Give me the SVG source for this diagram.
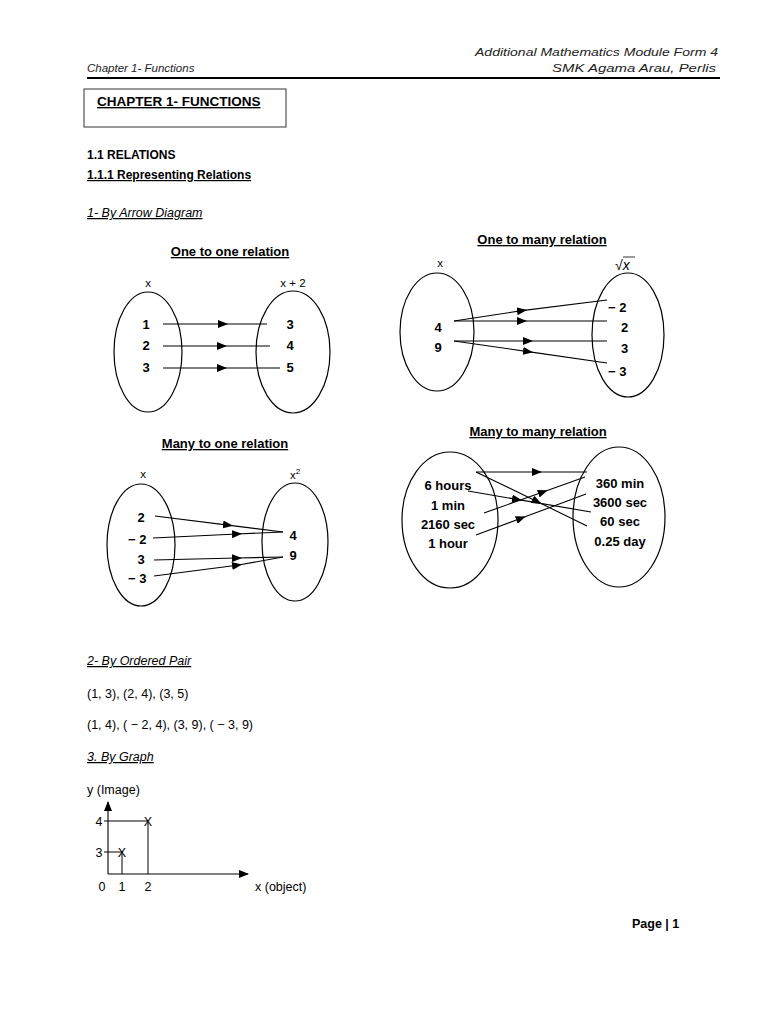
<svg xmlns="http://www.w3.org/2000/svg" width="768" height="1024" viewBox="0 0 768 1024">
<defs>
<marker id="mid" markerUnits="userSpaceOnUse" markerWidth="10" markerHeight="8" refX="5" refY="4" orient="auto"><path d="M0,0 L10,4 L0,8 z" fill="#000"/></marker>
<marker id="end" markerUnits="userSpaceOnUse" markerWidth="10" markerHeight="8" refX="9" refY="4" orient="auto"><path d="M0,0 L10,4 L0,8 z" fill="#000"/></marker>
</defs>
<style>
text{font-family:"Liberation Sans",Arial,sans-serif;fill:#000}
.hd{font-size:11.5px;font-style:italic;fill:#222}
.b{font-weight:bold;font-size:12px}
.t{font-weight:bold;font-size:13px;text-decoration:underline}
.it{font-style:italic;font-size:12.5px;text-decoration:underline}
.n{font-size:12.5px}
.v{font-weight:bold;font-size:13px}
.s{font-size:11.5px}
.e{fill:none;stroke:#000;stroke-width:1.2}
.c path,.c line{fill:none;stroke:#000;stroke-width:1.1}
</style>
<rect width="768" height="1024" fill="#fff"/>
<g id="header">
<text class="hd" x="718" y="56" text-anchor="end" textLength="243" lengthAdjust="spacingAndGlyphs" font-size="13">Additional Mathematics Module Form 4</text>
<text class="hd" x="87" y="72">Chapter 1- Functions</text>
<text class="hd" x="716" y="72" text-anchor="end" textLength="164" lengthAdjust="spacingAndGlyphs" font-size="13">SMK Agama Arau, Perlis</text>
<line x1="87" y1="78" x2="720" y2="78" stroke="#000" stroke-width="2"/>
</g>
<g id="title-box">
<rect x="84" y="89" width="202" height="38" fill="none" stroke="#333" stroke-width="1"/>
<text x="97" y="106" font-weight="bold" font-size="13.5" text-decoration="underline">CHAPTER 1- FUNCTIONS</text>
</g>
<g id="headings">
<text class="b" x="87" y="159">1.1 RELATIONS</text>
<text class="b" x="87" y="179" text-decoration="underline">1.1.1 Representing Relations</text>
<text class="it" x="87" y="217">1- By Arrow Diagram</text>
</g>
<g id="one-to-one">
<text class="t" x="230" y="256" text-anchor="middle">One to one relation</text>
<text class="s" x="148" y="287" text-anchor="middle">x</text>
<text class="s" x="293" y="287" text-anchor="middle">x + 2</text>
<ellipse class="e" cx="148" cy="352" rx="34" ry="60"/>
<ellipse class="e" cx="293" cy="352" rx="37" ry="61"/>
<text class="v" x="146" y="329" text-anchor="middle">1</text>
<text class="v" x="146" y="350" text-anchor="middle">2</text>
<text class="v" x="146" y="372" text-anchor="middle">3</text>
<text class="v" x="290" y="329" text-anchor="middle">3</text>
<text class="v" x="290" y="350" text-anchor="middle">4</text>
<text class="v" x="290" y="372" text-anchor="middle">5</text>
</g>
<g id="one-to-many">
<text class="t" x="542" y="244" text-anchor="middle">One to many relation</text>
<text class="s" x="440" y="267" text-anchor="middle">x</text>
<text x="615" y="270" font-size="14" font-family="Liberation Serif,serif">√<tspan font-style="italic">x</tspan></text>
<line x1="623" y1="257" x2="635" y2="257" stroke="#000" stroke-width="0.8"/>
<ellipse class="e" cx="437" cy="332" rx="37" ry="59"/>
<ellipse class="e" cx="628" cy="335" rx="36" ry="62"/>
<text class="v" x="438" y="332" text-anchor="middle">4</text>
<text class="v" x="438" y="352" text-anchor="middle">9</text>
<text class="v" x="608" y="312">− 2</text>
<text class="v" x="621" y="332">2</text>
<text class="v" x="621" y="353">3</text>
<text class="v" x="608" y="376">− 3</text>
</g>
<g id="many-to-one">
<text class="t" x="225" y="448" text-anchor="middle">Many to one relation</text>
<text class="s" x="143" y="478" text-anchor="middle">x</text>
<text class="s" x="290" y="479">x<tspan font-size="8" dy="-5">2</tspan></text>
<ellipse class="e" cx="141" cy="545" rx="34" ry="61"/>
<ellipse class="e" cx="295" cy="542" rx="33" ry="59"/>
<text class="v" x="141" y="522" text-anchor="middle">2</text>
<text class="v" x="128" y="544">− 2</text>
<text class="v" x="141" y="564" text-anchor="middle">3</text>
<text class="v" x="128" y="583">− 3</text>
<text class="v" x="293" y="540" text-anchor="middle">4</text>
<text class="v" x="293" y="560" text-anchor="middle">9</text>
</g>
<g id="many-to-many">
<text class="t" x="538" y="436" text-anchor="middle">Many to many relation</text>
<ellipse class="e" cx="450" cy="520" rx="48" ry="68"/>
<ellipse class="e" cx="619" cy="517" rx="46" ry="70"/>
<text class="v" x="448" y="490" text-anchor="middle">6 hours</text>
<text class="v" x="448" y="510" text-anchor="middle">1 min</text>
<text class="v" x="448" y="529" text-anchor="middle">2160 sec</text>
<text class="v" x="448" y="548" text-anchor="middle">1 hour</text>
<text class="v" x="620" y="488" text-anchor="middle">360 min</text>
<text class="v" x="620" y="507" text-anchor="middle">3600 sec</text>
<text class="v" x="620" y="526" text-anchor="middle">60 sec</text>
<text class="v" x="620" y="546" text-anchor="middle">0.25 day</text>
</g>
<g id="connectors" class="c">
<path d="M163,324 L223,324 L267,324" marker-mid="url(#mid)"/>
<path d="M163,346 L222,346 L270,346" marker-mid="url(#mid)"/>
<path d="M163,368 L222,368 L280,368" marker-mid="url(#mid)"/>
<path d="M454,321 L522,310.6 L607,300" marker-mid="url(#mid)"/>
<path d="M454,321 L522,321 L607,321" marker-mid="url(#mid)"/>
<path d="M454,341 L528,341 L607,341" marker-mid="url(#mid)"/>
<path d="M454,341 L528,351.6 L607,363" marker-mid="url(#mid)"/>
<path d="M155,516 L228,525.1 L283,532" marker-mid="url(#mid)"/>
<path d="M153,538 L237,534 L283,532" marker-mid="url(#mid)"/>
<path d="M154,560 L237,558 L283,557" marker-mid="url(#mid)"/>
<path d="M154,576 L237,565.3 L283,557" marker-mid="url(#mid)"/>
<path d="M476,472 L537,472 L587,472" marker-mid="url(#mid)"/>
<path d="M476,472 L537,501.5 L587,526" marker-mid="url(#mid)"/>
<path d="M468,491 L517,499.4 L591,512" marker-mid="url(#mid)"/>
<path d="M484,513 L543,492 L585,477" marker-mid="url(#mid)"/>
<path d="M476,535 L521,518.3 L586,494" marker-mid="url(#mid)"/>
</g>
<g id="ordered-pairs">
<text class="it" x="87" y="665">2- By Ordered Pair</text>
<text class="n" x="87" y="698">(1, 3), (2, 4), (3, 5)</text>
<text class="n" x="87" y="729">(1, 4), ( − 2, 4), (3, 9), ( − 3, 9)</text>
<text class="it" x="87" y="761">3. By Graph</text>
</g>
<g id="graph">
<text class="n" x="87" y="794">y (Image)</text>
<line x1="108" y1="874" x2="108" y2="802" stroke="#000" stroke-width="1.1" marker-end="url(#end)"/>
<line x1="108" y1="874" x2="248" y2="874" stroke="#000" stroke-width="1.1" marker-end="url(#end)"/>
<line x1="104" y1="821" x2="148" y2="821" stroke="#000" stroke-width="1"/>
<line x1="148" y1="821" x2="148" y2="874" stroke="#000" stroke-width="1"/>
<line x1="104" y1="852" x2="122" y2="852" stroke="#000" stroke-width="1"/>
<line x1="122" y1="852" x2="122" y2="874" stroke="#000" stroke-width="1"/>
<text class="n" x="99" y="826" text-anchor="middle">4</text>
<text class="n" x="99" y="857" text-anchor="middle">3</text>
<text class="n" x="148" y="826" text-anchor="middle">X</text>
<text class="n" x="122" y="857" text-anchor="middle">X</text>
<text class="n" x="102" y="891" text-anchor="middle">0</text>
<text class="n" x="122" y="891" text-anchor="middle">1</text>
<text class="n" x="148" y="891" text-anchor="middle">2</text>
<text class="n" x="255" y="891">x (object)</text>
</g>
<g id="footer">
<text x="632" y="928" font-weight="bold" font-size="12.5">Page | 1</text>
</g>
</svg>
